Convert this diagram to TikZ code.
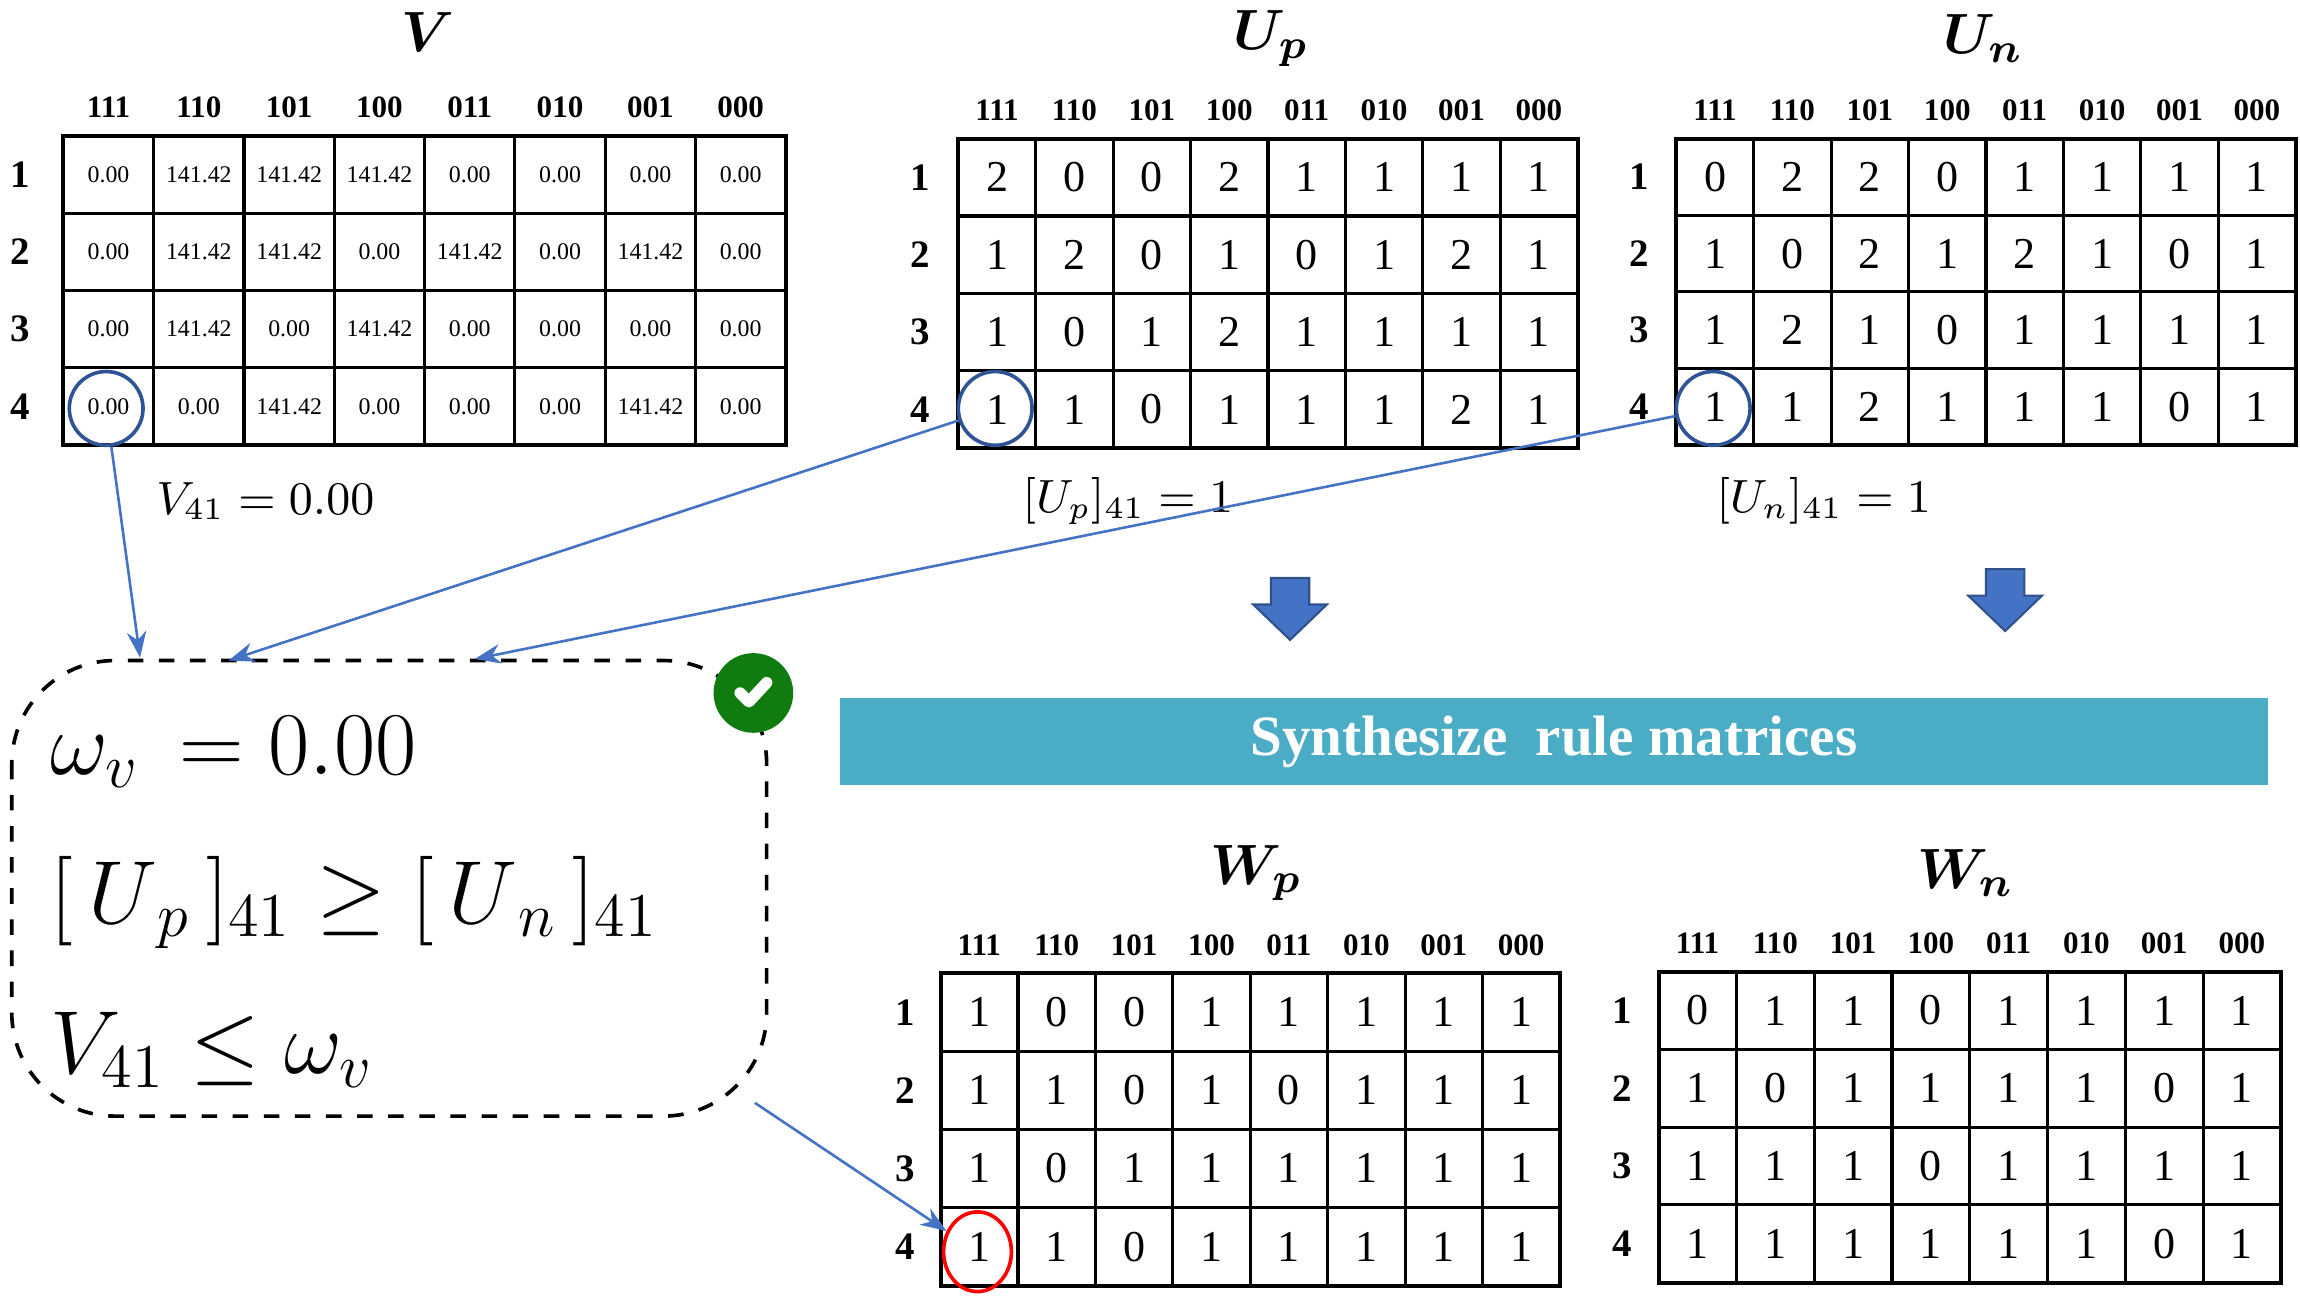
\documentclass[tikz,border=0pt]{standalone}
\usepackage{amsmath}
\usepackage{bm}
\usepackage{fontspec}
\setmainfont{Liberation Serif}
\usetikzlibrary{arrows.meta,calc,shapes.geometric}

\definecolor{cirblue}{RGB}{47,84,150}
\definecolor{arrblue}{RGB}{68,114,196}
\definecolor{banner}{RGB}{75,172,198}
\definecolor{okgreen}{RGB}{16,124,16}

\tikzset{
  hdr/.style={font=\bfseries\fontsize{6}{6}\selectfont},
  ttl/.style={font=\bfseries\itshape\fontsize{11}{11}\selectfont},
  caption/.style={font=\fontsize{9}{9}\selectfont},
  link/.style={-{Stealth[length=5pt]}, arrblue, line width=0.5pt},
  pick/.style={draw=cirblue, line width=0.7pt, circle, minimum size=0.5cm, inner sep=0pt},
  blk/.style={fill=arrblue, draw=arrblue!70!black, line width=0.4pt},
}

% x0, y0, cell width, cell height, entry font, label x, rows
\newcommand\rulemat[7]{%
  \foreach \c [count=\j] in {111,110,101,100,011,010,001,000}
    \node[hdr] at ({#1+(\j-.5)*#3}, #2-19) {\c};
  \foreach \row [count=\i] in {#7} {
    \node[hdr, font=\bfseries\fontsize{7.5}{7.5}\selectfont] at (#6, {#2+(\i-.5)*#4}) {\i};
    \foreach \v [count=\j] in \row
      \node[font=#5] at ({#1+(\j-.5)*#3}, {#2+(\i-.5)*#4}) {\v};
  }
  \draw[line width=0.8pt] (#1,#2) rectangle ({#1+8*#3},{#2+4*#4});
  \foreach \j in {1,...,7} \draw[line width=0.6pt] ({#1+\j*#3},#2) -- ({#1+\j*#3},{#2+4*#4});
  \foreach \i in {1,2,3} \draw[line width=0.6pt] (#1,{#2+\i*#4}) -- ({#1+8*#3},{#2+\i*#4});
}

\begin{document}
\begin{tikzpicture}[x=0.01cm, y=-0.01cm]
  \useasboundingbox (0,0) rectangle (1560,881);

  % input matrices
  \node[ttl] (tV) at (290,22) {$\bm{V}$};
  \rulemat{43}{92}{61.25}{52.5}{\fontsize{4.6}{5}\selectfont}{14}{
    {0.00,141.42,141.42,141.42,0.00,0.00,0.00,0.00},
    {0.00,141.42,141.42,0.00,141.42,0.00,141.42,0.00},
    {0.00,141.42,0.00,141.42,0.00,0.00,0.00,0.00},
    {0.00,0.00,141.42,0.00,0.00,0.00,141.42,0.00}}
  \node[ttl] (tUp) at (862,26) {$\bm{U_p}$};
  \rulemat{650}{94}{52.5}{52.5}{\fontsize{8.5}{9}\selectfont}{624}{
    {2,0,0,2,1,1,1,1},{1,2,0,1,0,1,2,1},{1,0,1,2,1,1,1,1},{1,1,0,1,1,1,2,1}}
  \node[ttl] (tUn) at (1345,26) {$\bm{U_n}$};
  \rulemat{1137}{94}{52.5}{52}{\fontsize{8.5}{9}\selectfont}{1112}{
    {0,2,2,0,1,1,1,1},{1,0,2,1,2,1,0,1},{1,2,1,0,1,1,1,1},{1,1,2,1,1,1,0,1}}

  % synthesized matrices
  \node[ttl] (tWp) at (852,592) {$\bm{W_p}$};
  \rulemat{638}{660}{52.5}{53}{\fontsize{8.5}{9}\selectfont}{614}{
    {1,0,0,1,1,1,1,1},{1,1,0,1,0,1,1,1},{1,0,1,1,1,1,1,1},{1,1,0,1,1,1,1,1}}
  \node[ttl] (tWn) at (1333,592) {$\bm{W_n}$};
  \rulemat{1125}{659}{52.75}{52.75}{\fontsize{8.5}{9}\selectfont}{1100}{
    {0,1,1,0,1,1,1,1},{1,0,1,1,1,1,0,1},{1,1,1,0,1,1,1,1},{1,1,1,1,1,1,0,1}}

  % captions
  \node[caption] (cV) at (180,340) {$V_{41}=0.00$};
  \node[caption] (cUp) at (765,340) {$[U_p]_{41}=1$};
  \node[caption] (cUn) at (1237,340) {$[U_n]_{41}=1$};

  % picked entries
  \node[pick] (pV) at (72,277) {};
  \node[pick] (pUp) at (675,277) {};
  \node[pick] (pUn) at (1162,277) {};
  \node[pick, draw=red, minimum width=0.46cm, minimum height=0.54cm, ellipse] (pWp) at (663,849) {};

  % block arrows
  \foreach \bx/\by in {875/392, 1360/386}
    \draw[blk] (\bx-13,\by) -- (\bx+13,\by) -- (\bx+13,\by+18) -- (\bx+25,\by+18)
      -- (\bx,\by+42) -- (\bx-25,\by+18) -- (\bx-13,\by+18) -- cycle;

  % banner
  \node[fill=banner, minimum width=9.68cm, minimum height=0.53cm, text=white,
    font=\bfseries\fontsize{11}{11}\selectfont] (syn) at (1054,503) {Synthesize\ \ rule matrices};

  % condition box
  \draw[dashed, line width=0.7pt, rounded corners=0.7cm] (8,448) rectangle (520,757);
  \node[anchor=west, font=\fontsize{18}{18}\selectfont] (l1) at (22,510) {$\omega_v\,=0.00$};
  \node[anchor=west, font=\fontsize{18}{18}\selectfont] (l2) at (22,612) {$[\,U_{\,p}\,]_{41}\geq[\,U_{\,n}\,]_{41}$};
  \node[anchor=west, font=\fontsize{18}{18}\selectfont] (l3) at (22,712) {$V_{41}\leq\omega_v$};
  \node[circle, fill=okgreen, minimum size=0.54cm, inner sep=0pt] (ok) at (511,470) {};
  \draw[white, line width=2.2pt, line cap=round, line join=round]
    ($(ok)+(-9,0)$) -- ($(ok)+(-3,6)$) -- ($(ok)+(9,-7)$);

  % connectors
  \coordinate (eV) at (95,446);
  \coordinate (eUp) at (155,448);
  \coordinate (eUn) at (322,447);
  \coordinate (sBox) at (512,748);
  \draw[link] (pV) -- (eV);
  \draw[link] (pUp) -- (eUp);
  \draw[link] (pUn) -- (eUn);
  \draw[link] (sBox) -- (pWp);
\end{tikzpicture}
\end{document}
